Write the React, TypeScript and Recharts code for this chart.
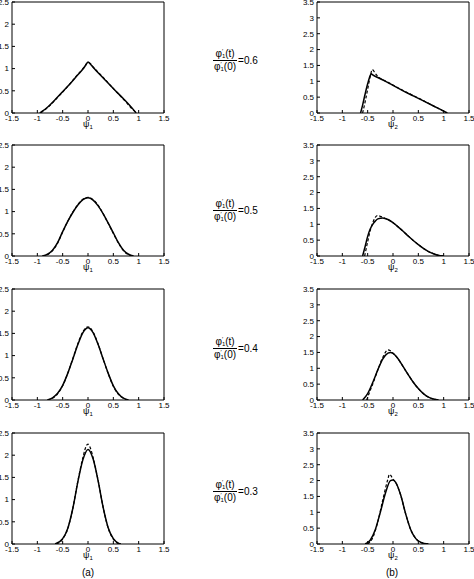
import React from 'react';
import { LineChart, Line, XAxis, YAxis, Label } from 'recharts';

const xTicks = [-1.5, -1, -0.5, 0, 0.5, 1, 1.5];
const yTicksA = [0, 0.5, 1, 1.5, 2, 2.5];
const yTicksB = [0, 0.5, 1, 1.5, 2, 2.5, 3, 3.5];
const ratios = ['0.6', '0.5', '0.4', '0.3'];
const captions = ['(a)', '(b)'];

// column (a): psi1 densities, rows top to bottom
const a1X = [-0.95, -0.9, -0.8, -0.6, -0.4, -0.2, -0.1, -0.05, 0, 0.05, 0.1, 0.3, 0.5, 0.7, 0.9, 0.95];
const a1Solid = [0, 0.04, 0.13, 0.36, 0.6, 0.86, 0.99, 1.07, 1.15, 1.1, 1.03, 0.79, 0.55, 0.32, 0.07, 0];
const a1DashX = [-0.93, -0.9, -0.8, -0.6, -0.4, -0.2, -0.1, -0.05, 0, 0.05, 0.1, 0.3, 0.5, 0.7, 0.9, 0.96];
const a1Dash = [0, 0.03, 0.12, 0.35, 0.6, 0.87, 1.0, 1.08, 1.14, 1.11, 1.04, 0.8, 0.55, 0.31, 0.06, 0];

const a2X = [-0.9, -0.8, -0.7, -0.6, -0.5, -0.4, -0.3, -0.2, -0.1, 0, 0.1, 0.2, 0.3, 0.4, 0.5, 0.6, 0.7, 0.8, 0.9];
const a2Solid = [0, 0.04, 0.13, 0.3, 0.55, 0.78, 0.98, 1.15, 1.27, 1.31, 1.26, 1.13, 0.95, 0.74, 0.52, 0.3, 0.13, 0.04, 0];
const a2DashX = [-0.9, -0.8, -0.7, -0.6, -0.5, -0.4, -0.3, -0.2, -0.1, 0, 0.1, 0.2, 0.3, 0.4, 0.5, 0.6, 0.7, 0.8, 0.9];
const a2Dash = [0, 0.03, 0.12, 0.29, 0.54, 0.78, 0.99, 1.16, 1.28, 1.32, 1.27, 1.14, 0.95, 0.73, 0.51, 0.29, 0.12, 0.03, 0];

const a3X = [-0.8, -0.7, -0.6, -0.5, -0.4, -0.3, -0.2, -0.1, 0, 0.1, 0.2, 0.3, 0.4, 0.5, 0.6, 0.7, 0.8];
const a3Solid = [0, 0.05, 0.15, 0.33, 0.6, 0.92, 1.25, 1.52, 1.63, 1.52, 1.25, 0.92, 0.6, 0.32, 0.14, 0.04, 0];
const a3DashX = [-0.8, -0.7, -0.6, -0.5, -0.4, -0.3, -0.2, -0.1, 0, 0.1, 0.2, 0.3, 0.4, 0.5, 0.6, 0.7, 0.8];
const a3Dash = [0, 0.04, 0.14, 0.32, 0.6, 0.93, 1.27, 1.54, 1.65, 1.53, 1.26, 0.92, 0.59, 0.31, 0.13, 0.04, 0];

const a4X = [-0.65, -0.5, -0.4, -0.3, -0.2, -0.1, 0, 0.1, 0.2, 0.3, 0.4, 0.5, 0.6, 0.65];
const a4Solid = [0, 0.12, 0.35, 0.8, 1.4, 1.9, 2.13, 1.92, 1.42, 0.82, 0.36, 0.12, 0.02, 0];
const a4DashX = [-0.62, -0.5, -0.4, -0.3, -0.2, -0.1, -0.03, 0, 0.05, 0.1, 0.2, 0.3, 0.4, 0.5, 0.62];
const a4Dash = [0, 0.11, 0.34, 0.8, 1.42, 1.95, 2.22, 2.25, 2.15, 1.95, 1.43, 0.82, 0.35, 0.11, 0];

// column (b): psi2 densities, rows top to bottom
const b1X = [-0.64, -0.6, -0.55, -0.5, -0.45, -0.43, -0.4, -0.3, -0.2, -0.1, 0, 0.2, 0.4, 0.6, 0.8, 1.0, 1.07];
const b1Solid = [0, 0.25, 0.6, 0.92, 1.18, 1.24, 1.2, 1.12, 1.04, 0.96, 0.87, 0.7, 0.54, 0.38, 0.22, 0.06, 0];
const b1DashX = [-0.6, -0.55, -0.5, -0.45, -0.41, -0.35, -0.3, -0.2, -0.1, 0, 0.2, 0.4, 0.6, 0.8, 1.0, 1.07];
const b1Dash = [0, 0.35, 0.75, 1.15, 1.37, 1.25, 1.15, 1.05, 0.97, 0.88, 0.71, 0.55, 0.39, 0.22, 0.06, 0];

const b2X = [-0.6, -0.55, -0.5, -0.45, -0.4, -0.35, -0.3, -0.2, -0.1, 0, 0.1, 0.2, 0.3, 0.4, 0.5, 0.6, 0.7, 0.8, 0.9, 1.0];
const b2Solid = [0, 0.3, 0.62, 0.85, 1.0, 1.1, 1.17, 1.2, 1.15, 1.05, 0.92, 0.78, 0.63, 0.49, 0.36, 0.24, 0.14, 0.07, 0.02, 0];
const b2DashX = [-0.56, -0.5, -0.45, -0.4, -0.35, -0.3, -0.25, -0.2, -0.1, 0, 0.1, 0.2, 0.3, 0.4, 0.5, 0.6, 0.7, 0.8, 0.9, 1.0];
const b2Dash = [0, 0.45, 0.8, 1.05, 1.22, 1.28, 1.25, 1.22, 1.15, 1.05, 0.92, 0.78, 0.63, 0.49, 0.36, 0.24, 0.14, 0.07, 0.02, 0];

const b3X = [-0.6, -0.5, -0.4, -0.3, -0.2, -0.1, -0.05, 0, 0.1, 0.2, 0.3, 0.4, 0.5, 0.6, 0.7, 0.8, 0.9];
const b3Solid = [0, 0.2, 0.55, 0.95, 1.3, 1.48, 1.5, 1.47, 1.3, 1.05, 0.8, 0.56, 0.36, 0.2, 0.09, 0.03, 0];
const b3DashX = [-0.52, -0.45, -0.4, -0.3, -0.2, -0.1, -0.05, 0, 0.1, 0.2, 0.3, 0.4, 0.5, 0.6, 0.7, 0.8, 0.9];
const b3Dash = [0, 0.3, 0.5, 0.95, 1.35, 1.58, 1.55, 1.48, 1.3, 1.05, 0.8, 0.56, 0.36, 0.2, 0.09, 0.03, 0];

const b4X = [-0.55, -0.45, -0.35, -0.25, -0.15, -0.05, 0, 0.05, 0.15, 0.25, 0.35, 0.45, 0.55, 0.7];
const b4Solid = [0, 0.12, 0.45, 1.0, 1.6, 2.0, 2.02, 1.95, 1.55, 0.95, 0.45, 0.17, 0.05, 0];
const b4DashX = [-0.5, -0.4, -0.3, -0.2, -0.1, -0.07, 0, 0.05, 0.15, 0.25, 0.35, 0.45, 0.55, 0.7];
const b4Dash = [0, 0.2, 0.7, 1.4, 2.05, 2.2, 2.05, 1.95, 1.55, 0.95, 0.45, 0.17, 0.05, 0];

const colA = [
  [a1X, a1Solid, a1DashX, a1Dash],
  [a2X, a2Solid, a2DashX, a2Dash],
  [a3X, a3Solid, a3DashX, a3Dash],
  [a4X, a4Solid, a4DashX, a4Dash],
];
const colB = [
  [b1X, b1Solid, b1DashX, b1Dash],
  [b2X, b2Solid, b2DashX, b2Dash],
  [b3X, b3Solid, b3DashX, b3Dash],
  [b4X, b4Solid, b4DashX, b4Dash],
];

// layout
const PLOT_W = 152;
const PLOT_H = 111;
const AXIS_W = 24;
const RIGHT_W = 2;
const RIGHT_PAD = 8;
const TOP_H = 2;
const BOTTOM_H = 30;
const rowTops = [2, 145, 289, 433];
const ratioCenters = [60, 210, 348, 491];
const FONT = '"Liberation Sans", Arial, Helvetica, sans-serif';

const zip = (xs: number[], ys: number[]) => xs.map((x, i) => ({ x, y: ys[i] }));
const blank = () => '';

const psiLabel = (sub: string) => (props: any) => {
  const vb = props.viewBox;
  return (
    <text x={vb.x + vb.width / 2} y={vb.y + 14} textAnchor="middle" fontSize={9} fill="#000" style={{ fill: '#000' }}>
      ψ<tspan fontSize={6} dy={2}>{sub}</tspan>
    </text>
  );
};

function Panel({ left, top, yTicks, sub, series }: any) {
  const yMax = yTicks[yTicks.length - 1];
  const [sx, sy, dx, dy] = series;
  const tickStyle = { fontSize: 8, fill: '#000', fontFamily: FONT };
  return (
    <div style={{ position: 'absolute', left: left - AXIS_W, top: top - TOP_H }}>
      <LineChart
        width={AXIS_W + PLOT_W + RIGHT_W + RIGHT_PAD}
        height={TOP_H + PLOT_H + BOTTOM_H}
        margin={{ top: 0, right: RIGHT_PAD, bottom: 0, left: 0 }}
      >
        <XAxis xAxisId="b" type="number" dataKey="x" domain={[-1.5, 1.5]} ticks={xTicks} interval={0}
          allowDataOverflow stroke="#000" tickSize={-3} tickMargin={5} tick={tickStyle} height={BOTTOM_H}>
          <Label content={psiLabel(sub)} />
        </XAxis>
        <XAxis xAxisId="t" orientation="top" type="number" domain={[-1.5, 1.5]} ticks={xTicks} interval={0}
          stroke="#000" tickSize={-3} tickFormatter={blank} height={TOP_H} />
        <YAxis yAxisId="l" type="number" domain={[0, yMax]} ticks={yTicks} interval={0} allowDataOverflow
          stroke="#000" tickSize={-3} tickMargin={6} tick={tickStyle} width={AXIS_W} />
        <YAxis yAxisId="r" orientation="right" type="number" domain={[0, yMax]} ticks={yTicks} interval={0}
          stroke="#000" tickSize={-3} tickFormatter={blank} width={RIGHT_W} />
        <Line xAxisId="b" yAxisId="l" data={zip(dx, dy)} dataKey="y" type="monotone" dot={false}
          stroke="#000" strokeWidth={1.2} strokeDasharray="3 2" isAnimationActive={false} />
        <Line xAxisId="b" yAxisId="l" data={zip(sx, sy)} dataKey="y" type="monotone" dot={false}
          stroke="#000" strokeWidth={1.5} isAnimationActive={false} />
      </LineChart>
    </div>
  );
}

function Phi() {
  return (
    <span>
      φ
      <span style={{ display: 'inline-flex', flexDirection: 'column', fontSize: 6, lineHeight: '5px', verticalAlign: 'middle' }}>
        <span>′</span>
        <span>1</span>
      </span>
    </span>
  );
}

function Ratio({ value, cy }: { value: string; cy: number }) {
  return (
    <div style={{ position: 'absolute', left: 213, top: cy - 15, height: 30, display: 'flex', alignItems: 'center', fontSize: 10 }}>
      <div style={{ display: 'flex', flexDirection: 'column', alignItems: 'center' }}>
        <div style={{ lineHeight: '12px', padding: '0 1px' }}><Phi />(t)</div>
        <div style={{ lineHeight: '12px', borderTop: '1px solid #000', padding: '0 1px' }}><Phi />(0)</div>
      </div>
      <span style={{ marginLeft: 1 }}>={value}</span>
    </div>
  );
}

export default function App() {
  return (
    <div style={{ position: 'absolute', left: 0, top: 0, width: 474, height: 579, background: '#fff', overflow: 'hidden', fontFamily: FONT, color: '#000' }}>
      {rowTops.map((t, i) => (
        <Panel key={'a' + i} left={12} top={t} yTicks={yTicksA} sub="1" series={colA[i]} />
      ))}
      {rowTops.map((t, i) => (
        <Panel key={'b' + i} left={317} top={t} yTicks={yTicksB} sub="2" series={colB[i]} />
      ))}
      {ratios.map((r, i) => (
        <Ratio key={r} value={r} cy={ratioCenters[i]} />
      ))}
      <div style={{ position: 'absolute', left: 68, width: 40, top: 567, textAlign: 'center', fontSize: 10 }}>{captions[0]}</div>
      <div style={{ position: 'absolute', left: 372, width: 40, top: 567, textAlign: 'center', fontSize: 10 }}>{captions[1]}</div>
    </div>
  );
}
